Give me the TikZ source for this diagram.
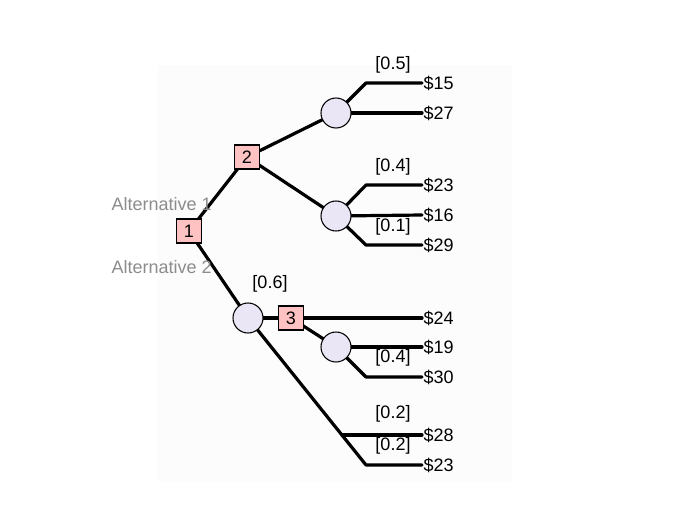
\documentclass[tikz,border=0pt]{standalone}
\usepackage{fontspec}
\setmainfont{Liberation Sans}
\begin{document}
\begin{tikzpicture}[x=0.75pt,y=-0.75pt,
  every node/.style={font=\fontsize{13.5}{16}\selectfont},
  br/.style={line width=2.4pt,line cap=round,line join=round},
  dec/.style={draw,line width=0.8pt,fill=red!20!pink!60,minimum width=19pt,minimum height=18pt,inner sep=0pt},
  ch/.style={circle,draw,line width=0.8pt,fill=cyan!8!blue!8,minimum size=22.5pt,inner sep=0pt},
  lf/.style={anchor=west,inner sep=1pt},
  pr/.style={inner sep=0pt},
  alt/.style={text=black!45,anchor=east,inner sep=0pt}]
\useasboundingbox (0,0) rectangle (676,518);
\fill[black!1] (158,65) rectangle (512,482);
% coordinates
\coordinate (b15) at (366,83); \coordinate (e15) at (422,83);
\coordinate (e27) at (422,113);
\coordinate (b23) at (366,185); \coordinate (e23) at (422,185);
\coordinate (e16) at (422,215);
\coordinate (b29) at (366,245); \coordinate (e29) at (422,245);
\coordinate (e24) at (422,318);
\coordinate (e19) at (422,347);
\coordinate (b30) at (366,377); \coordinate (e30) at (422,377);
\coordinate (b28) at (342,435); \coordinate (e28) at (422,435);
\coordinate (b23b) at (366,465); \coordinate (e23b) at (422,465);
\coordinate (p1) at (189,231); \coordinate (p2) at (247,157);
\coordinate (pc1) at (336,113); \coordinate (pc2) at (336,216);
\coordinate (pc3) at (248,318); \coordinate (p3) at (291,318);
\coordinate (pc4) at (336,347);
% branches
\draw[br] (p1) -- (p2); \draw[br] (p1) -- (pc3);
\draw[br] (p2) -- (pc1); \draw[br] (p2) -- (pc2);
\draw[br] (pc1) -- (b15) -- (e15); \draw[br] (pc1) -- (e27);
\draw[br] (pc2) -- (b23) -- (e23); \draw[br] (pc2) -- (e16); \draw[br] (pc2) -- (b29) -- (e29);
\draw[br] (pc3) -- (p3) -- (e24); \draw[br] (p3) -- (pc4);
\draw[br] (pc4) -- (e19); \draw[br] (pc4) -- (b30) -- (e30);
\draw[br] (pc3) -- (b23b) -- (e23b); \draw[br] (b28) -- (e28);
% nodes
\node[dec] (n1) at (p1) {1};
\node[dec] (n2) at (p2) {2};
\node[dec] (n3) at (p3) {3};
\node[ch] (c1) at (pc1) {};
\node[ch] (c2) at (pc2) {};
\node[ch] (c3) at (pc3) {};
\node[ch] (c4) at (pc4) {};
% leaves
\node[lf] (l15) at (e15) {\$15};
\node[lf] (l27) at (e27) {\$27};
\node[lf] (l23) at (e23) {\$23};
\node[lf] (l16) at (e16) {\$16};
\node[lf] (l29) at (e29) {\$29};
\node[lf] (l24) at (e24) {\$24};
\node[lf] (l19) at (e19) {\$19};
\node[lf] (l30) at (e30) {\$30};
\node[lf] (l28) at (e28) {\$28};
\node[lf] (l23b) at (e23b) {\$23};
% probabilities
\node[pr] (q1) at (393,65) {[0.5]};
\node[pr] (q2) at (393,167) {[0.4]};
\node[pr] (q3) at (393,227) {[0.1]};
\node[pr] (q4) at (270,284) {[0.6]};
\node[pr] (q5) at (393,358) {[0.4]};
\node[pr] (q6) at (393,414) {[0.2]};
\node[pr] (q7) at (393,446) {[0.2]};
\node[alt] (a1) at (212,204) {Alternative 1};
\node[alt] (a2) at (212,267) {Alternative 2};
\end{tikzpicture}
\end{document}
